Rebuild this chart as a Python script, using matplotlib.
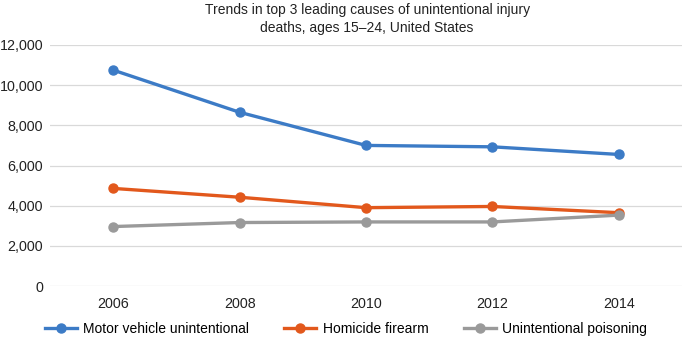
import matplotlib
matplotlib.use("Agg")
import matplotlib.pyplot as plt
from matplotlib.ticker import FuncFormatter

# data
years = ["2006", "2008", "2010", "2012", "2014"]
motor_vehicle = [10750, 8650, 7000, 6930, 6550]
homicide_firearm = [4860, 4420, 3900, 3960, 3650]
poisoning = [2960, 3160, 3190, 3190, 3530]

series_names = ["Motor vehicle unintentional", "Homicide firearm", "Unintentional poisoning"]
colors = ["#3C7BC6", "#E2581C", "#9A9A9A"]

plt.rcParams["font.family"] = ["Liberation Sans", "DejaVu Sans"]

fig = plt.figure(figsize=(6.85, 3.40), dpi=100)
ax = fig.add_axes([50 / 685, 1 - 286 / 340, 632 / 685, 241 / 340])

x = list(range(len(years)))
for vals, name, c in zip([motor_vehicle, homicide_firearm, poisoning], series_names, colors):
    ax.plot(x, vals, color=c, lw=2.4, marker="o", ms=6.5, label=name)

ax.set_xlim(-0.5, len(years) - 0.5)
ax.set_ylim(0, 12000)
ax.set_yticks(range(0, 12001, 2000))
ax.yaxis.set_major_formatter(FuncFormatter(lambda v, p: f"{int(v):,}"))
ax.set_xticks(x)
ax.set_xticklabels(years)
ax.grid(axis="y", color="#D9D9D9", lw=0.9)
ax.set_axisbelow(True)
for s in ax.spines.values():
    s.set_visible(False)
ax.tick_params(axis="both", length=0, labelsize=10.3, colors="#222222")
ax.tick_params(axis="x", pad=8)
ax.tick_params(axis="y", pad=5)

fig.text(0.536, 0.99, "Trends in top 3 leading causes of unintentional injury\ndeaths, ages 15\u201324, United States",
         ha="center", va="top", fontsize=10, color="#222222", linespacing=1.3)

fig.legend(loc="lower left", bbox_to_anchor=(0.047, -0.025), ncol=3, frameon=False,
           fontsize=10, handlelength=2.3, columnspacing=2.55, handletextpad=0.45)

fig.savefig("out.png", dpi=100)
